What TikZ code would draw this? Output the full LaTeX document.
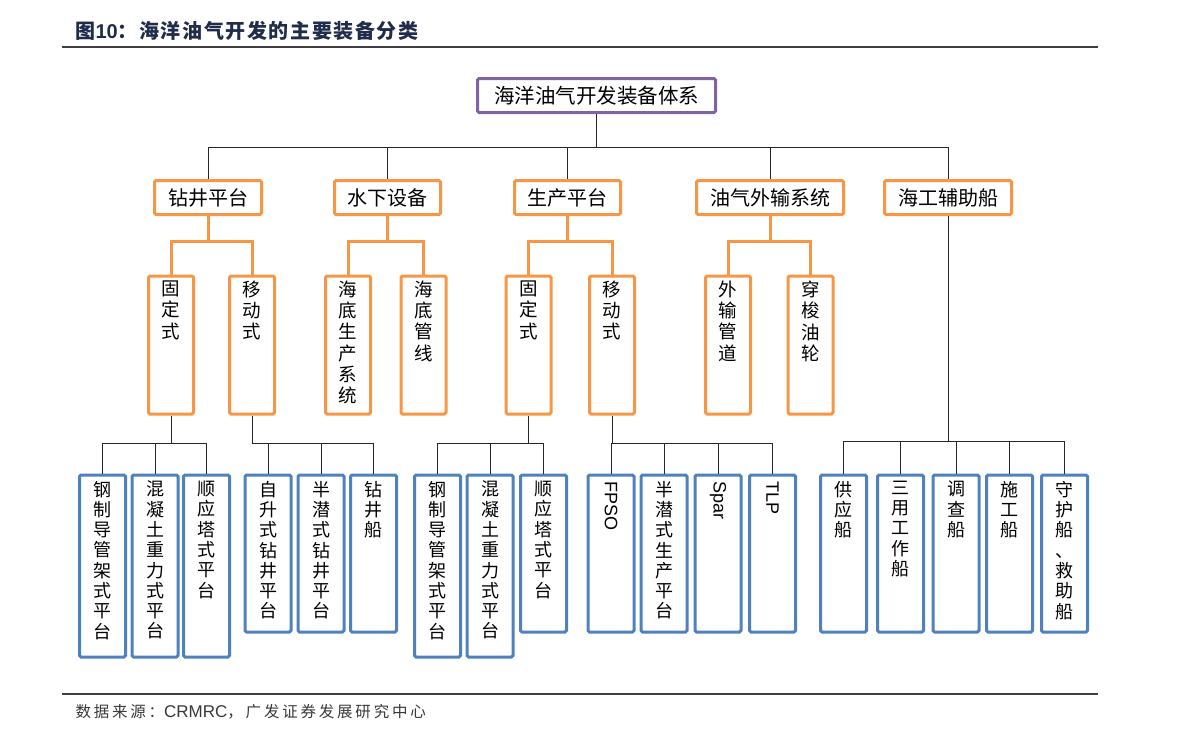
\documentclass[tikz,border=0pt]{standalone}
\usepackage{fontspec}
\setmainfont{Noto Sans CJK SC}
\newfontfamily\latinfont{Liberation Sans}
\newfontfamily\titlefont{Noto Sans CJK SC}[LetterSpace=8]
\newfontfamily\notefont{Noto Sans CJK SC}[LetterSpace=18]

\definecolor{rootcolor}{HTML}{8064A2}
\definecolor{catcolor}{HTML}{F79646}
\definecolor{itemcolor}{HTML}{4F81BD}
\definecolor{titlecolor}{HTML}{1F2D4B}
\definecolor{notecolor}{HTML}{383838}
\definecolor{rulecolor}{HTML}{404040}

\newcommand\itemfont{\fontsize{18}{20.3}\selectfont}
\newcommand\typefont{\fontsize{18.5}{21.2}\selectfont}
\newcommand\itemstack[2]{\parbox[c][#1pt][t]{40pt}{\itemfont\centering\vspace*{6pt}#2\par}}
\newcommand\typestack[2]{\parbox[c][#1pt][t]{40pt}{\typefont\centering\vspace*{5pt}#2\par}}

\tikzset{
  rootbox/.style={draw=rootcolor, line width=3pt, rounded corners=1.5pt, inner sep=0pt,
    minimum width=238, minimum height=34, font=\fontsize{20.5}{21}\selectfont},
  catbox/.style={draw=catcolor, line width=3pt, rounded corners=1.5pt, inner sep=0pt,
    minimum height=34, font=\fontsize{20}{21}\selectfont},
  typebox/.style={draw=catcolor, line width=3pt, rounded corners=1.5pt, inner sep=0pt,
    minimum width=45, anchor=north},
  itembox/.style={draw=itemcolor, line width=3pt, rounded corners=1.5pt, inner sep=0pt,
    minimum width=46, anchor=north},
  treeline/.style={draw=black!85, line width=0.9pt},
  typeline/.style={draw=catcolor, line width=3pt},
  rulestyle/.style={draw=rulecolor, line width=1.4pt},
}

\begin{document}
\begin{tikzpicture}[x=1pt, y=-1pt]
  \useasboundingbox (0,0) rectangle (1191,742);

  % heading and source
  \node[anchor=west, text=titlecolor, font=\fontsize{20}{20}\selectfont\titlefont\bfseries]
    (title) at (72,30.5) {图{\latinfont 10}：海洋油气开发的主要装备分类};
  \draw[rulestyle] (62,47) -- (1098,47);
  \draw[rulestyle] (62,694) -- (1098,694);
  \node[anchor=west, text=notecolor, font=\fontsize{15.5}{15.5}\selectfont\notefont]
    (source) at (72,712) {数据来源：{\fontsize{17}{17}\selectfont\latinfont CRMRC}，广发证券发展研究中心};

  % top
  \node[rootbox] (root) at (596.5,95.5) {海洋油气开发装备体系};

  % second level
  \node[catbox, minimum width=107] (drill) at (208,197.5) {钻井平台};
  \node[catbox, minimum width=106] (subsea) at (387.5,197.5) {水下设备};
  \node[catbox, minimum width=106] (prod) at (567.5,197.5) {生产平台};
  \node[catbox, minimum width=147] (export) at (770,197.5) {油气外输系统};
  \node[catbox, minimum width=127] (vessel) at (948,197.5) {海工辅助船};

  \coordinate (rootbus) at (596.5,147);
  \foreach \c in {drill,subsea,prod,export,vessel}
    \draw[treeline] (root.south) -- (rootbus) -| (\c.north);

  % third level
  \node[typebox] (drillfix) at (171,274.5) {\typestack{138}{固\\定\\式}};
  \node[typebox] (drillmob) at (252,274.5) {\typestack{138}{移\\动\\式}};
  \node[typebox] (subprod) at (348,274.5) {\typestack{138}{海\\底\\生\\产\\系\\统}};
  \node[typebox] (subpipe) at (423.5,274.5) {\typestack{138}{海\\底\\管\\线}};
  \node[typebox] (prodfix) at (528.5,274.5) {\typestack{138}{固\\定\\式}};
  \node[typebox] (prodmob) at (612,274.5) {\typestack{138}{移\\动\\式}};
  \node[typebox] (exppipe) at (728,274.5) {\typestack{138}{外\\输\\管\\道}};
  \node[typebox] (exptanker) at (810.5,274.5) {\typestack{138}{穿\\梭\\油\\轮}};

  \foreach \p/\a/\b in {drill/drillfix/drillmob, subsea/subprod/subpipe,
                        prod/prodfix/prodmob, export/exppipe/exptanker} {
    \draw[typeline] (\p.south) -- ++(0,25.5) coordinate (bar\p);
    \draw[typeline] (\a.north) |- (bar\p) -| (\b.north);
  }

  % fourth level
  \node[itembox] (dfjacket) at (102.5,473.5) {\itemstack{182}{钢\\制\\导\\管\\架\\式\\平\\台}};
  \node[itembox] (dfgravity) at (155,473.5) {\itemstack{182}{混\\凝\\土\\重\\力\\式\\平\\台}};
  \node[itembox] (dftower) at (206.5,473.5) {\itemstack{182}{顺\\应\\塔\\式\\平\\台}};
  \node[itembox] (dmjackup) at (268,473.5) {\itemstack{157}{自\\升\\式\\钻\\井\\平\\台}};
  \node[itembox] (dmsemi) at (321,473.5) {\itemstack{157}{半\\潜\\式\\钻\\井\\平\\台}};
  \node[itembox] (dmship) at (373.5,473.5) {\itemstack{157}{钻\\井\\船}};
  \node[itembox] (pfjacket) at (437.5,473.5) {\itemstack{182}{钢\\制\\导\\管\\架\\式\\平\\台}};
  \node[itembox] (pfgravity) at (490,473.5) {\itemstack{182}{混\\凝\\土\\重\\力\\式\\平\\台}};
  \node[itembox] (pftower) at (543.5,473.5) {\itemstack{157}{顺\\应\\塔\\式\\平\\台}};
  \node[itembox] (pmfpso) at (611,473.5) {\itemstack{157}{\latinfont\rotatebox{-90}{FPSO}}};
  \node[itembox] (pmsemi) at (664,473.5) {\itemstack{157}{半\\潜\\式\\生\\产\\平\\台}};
  \node[itembox] (pmspar) at (718,473.5) {\itemstack{157}{\latinfont\rotatebox{-90}{Spar}}};
  \node[itembox] (pmtlp) at (772.5,473.5) {\itemstack{157}{\latinfont\rotatebox{-90}{TLP}}};
  \node[itembox] (vsupply) at (843.5,473.5) {\itemstack{157}{供\\应\\船}};
  \node[itembox] (vutility) at (900.5,473.5) {\itemstack{157}{三\\用\\工\\作\\船}};
  \node[itembox] (vsurvey) at (956,473.5) {\itemstack{157}{调\\查\\船}};
  \node[itembox] (vconstr) at (1009.5,473.5) {\itemstack{157}{施\\工\\船}};
  \node[itembox] (vrescue) at (1064.5,473.5) {\itemstack{157}{守\\护\\船\\、\\救\\助\\船}};

  \draw[treeline] (drillfix.south) -- ++(0,27.5) coordinate (busdf);
  \foreach \c in {dfjacket,dfgravity,dftower}
    \draw[treeline] (busdf) -| (\c.north);
  \draw[treeline] (drillmob.south) -- ++(0,27.5) coordinate (busdm);
  \foreach \c in {dmjackup,dmsemi,dmship}
    \draw[treeline] (busdm) -| (\c.north);
  \draw[treeline] (prodfix.south) -- ++(0,27.5) coordinate (buspf);
  \foreach \c in {pfjacket,pfgravity,pftower}
    \draw[treeline] (buspf) -| (\c.north);
  \draw[treeline] (prodmob.south) -- ++(0,27.5) coordinate (buspm);
  \foreach \c in {pmfpso,pmsemi,pmspar,pmtlp}
    \draw[treeline] (buspm) -| (\c.north);
  \draw[treeline] (vessel.south) -- ++(0,225.5) coordinate (busv);
  \foreach \c in {vsupply,vutility,vsurvey,vconstr,vrescue}
    \draw[treeline] (busv) -| (\c.north);
\end{tikzpicture}
\end{document}
